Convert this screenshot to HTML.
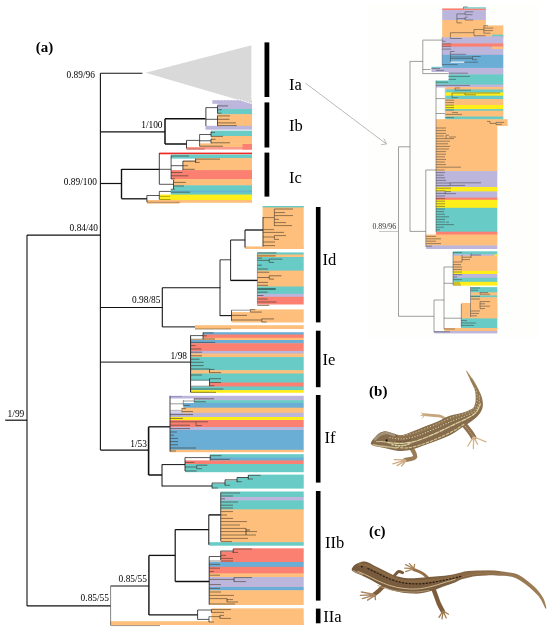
<!DOCTYPE html>
<html lang="en">
<head>
<meta charset="utf-8">
<title>Phylogenetic tree figure</title>
<style>
html,body{margin:0;padding:0;background:#fff;}
body{width:550px;height:632px;overflow:hidden;}
svg{display:block;font-family:"Liberation Serif",serif;}
</style>
</head>
<body>
<svg width="550" height="632" viewBox="0 0 550 632">
<rect x="0" y="0" width="550" height="632" fill="#ffffff"/>
<rect x="368" y="3" width="170" height="334.5" fill="#fefefc"/>
<g id="main-tree" shape-rendering="auto">
<rect x="212.3" y="100.0" width="39.7" height="3.8" fill="#bdb6dc"/>
<rect x="217.5" y="103.3" width="34.5" height="6.2" fill="#bdb6dc"/>
<rect x="217.5" y="109.0" width="34.5" height="5.7" fill="#68cbc6"/>
<rect x="217.5" y="114.2" width="34.5" height="12.1" fill="#fdbf7b"/>
<rect x="205.5" y="125.8" width="46.5" height="3.9" fill="#bdb6dc"/>
<rect x="211.0" y="130.6" width="41.0" height="5.9" fill="#68cbc6"/>
<rect x="211.0" y="136.0" width="41.0" height="7.8" fill="#fdbf7b"/>
<rect x="199.6" y="143.3" width="52.4" height="4.2" fill="#fdbf7b"/>
<rect x="186.5" y="147.0" width="65.5" height="2.6" fill="#fc9a8d"/>
<rect x="242.5" y="144.0" width="9.5" height="5.6" fill="#fb8072"/>
<polygon points="145.6,72.8 251.5,45.3 251.5,103.8" fill="#d9d9d9"/>
<path d="M212.4 99.9L240 99.9L251.5 103.6" stroke="#fff" stroke-width="0.9" stroke-dasharray="2 1.2" fill="none"/>
<path d="M251.6 45.3L251.6 103.8" stroke="#fff" stroke-width="0.6" stroke-dasharray="1.5 1.5" fill="none"/>
<rect x="159.3" y="152.6" width="92.7" height="1.7" fill="#ee2a24"/>
<rect x="171.1" y="154.5" width="80.9" height="4.1" fill="#68cbc6"/>
<rect x="195.6" y="158.1" width="56.4" height="3.2" fill="#fdbf7b"/>
<rect x="182.9" y="160.8" width="69.1" height="9.8" fill="#fdbf7b"/>
<rect x="171.1" y="170.1" width="80.9" height="9.5" fill="#fb8072"/>
<rect x="173.5" y="179.1" width="78.5" height="6.7" fill="#fdbf7b"/>
<rect x="173.5" y="185.3" width="78.5" height="4.2" fill="#68cbc6"/>
<rect x="170.8" y="189.0" width="81.2" height="6.1" fill="#68cbc6"/>
<rect x="170.8" y="190.6" width="81.2" height="1.8" fill="#62b4cf"/>
<rect x="159.3" y="194.6" width="92.7" height="5.9" fill="#ffee1a"/>
<rect x="146.9" y="200.0" width="105.1" height="2.8" fill="#fdbf7b"/>
<rect x="146.9" y="203.3" width="32.1" height="0.7" fill="#fdbf7b"/>
<rect x="262.6" y="206.0" width="41.1" height="43.0" fill="#fdbf7b"/>
<rect x="262.6" y="206.0" width="41.1" height="1.4" fill="#68cbc6"/>
<rect x="245.0" y="246.4" width="58.7" height="2.6" fill="#fdbf7b"/>
<rect x="257.4" y="252.4" width="46.3" height="2.6" fill="#68cbc6"/>
<rect x="257.4" y="254.5" width="46.3" height="3.0" fill="#fdbf7b"/>
<rect x="257.4" y="255.2" width="18.3" height="1.3" fill="#b5763a"/>
<rect x="257.4" y="257.0" width="46.3" height="14.1" fill="#68cbc6"/>
<rect x="257.4" y="270.6" width="46.3" height="16.4" fill="#fdbf7b"/>
<rect x="257.4" y="286.5" width="46.3" height="7.8" fill="#68cbc6"/>
<rect x="257.4" y="293.8" width="46.3" height="3.5" fill="#bdb6dc"/>
<rect x="257.4" y="296.8" width="46.3" height="7.7" fill="#fb8072"/>
<rect x="257.4" y="304.8" width="11.8" height="1.1" fill="#fdd3a3"/>
<rect x="250.4" y="309.4" width="53.3" height="3.2" fill="#fdbf7b"/>
<rect x="231.5" y="312.1" width="72.2" height="10.4" fill="#fdbf7b"/>
<rect x="195.0" y="325.2" width="108.7" height="3.8" fill="#fdbf7b"/>
<rect x="203.0" y="332.2" width="100.7" height="2.8" fill="#6aaed6"/>
<rect x="203.0" y="334.5" width="100.7" height="3.8" fill="#fb8072"/>
<rect x="203.0" y="337.8" width="100.7" height="2.7" fill="#fdbf7b"/>
<rect x="190.6" y="339.0" width="12.4" height="1.5" fill="#fdbf7b"/>
<rect x="190.6" y="340.0" width="113.1" height="3.7" fill="#6aaed6"/>
<rect x="190.6" y="343.2" width="113.1" height="8.2" fill="#fb8072"/>
<rect x="190.6" y="350.9" width="113.1" height="3.1" fill="#bdb6dc"/>
<rect x="190.6" y="353.5" width="113.1" height="4.1" fill="#fdbf7b"/>
<rect x="190.6" y="357.1" width="113.1" height="13.6" fill="#68cbc6"/>
<rect x="190.6" y="370.2" width="113.1" height="3.8" fill="#fdbf7b"/>
<rect x="190.6" y="373.5" width="113.1" height="7.0" fill="#68cbc6"/>
<rect x="209.5" y="380.0" width="94.2" height="3.0" fill="#68cbc6"/>
<rect x="209.5" y="382.5" width="94.2" height="4.5" fill="#fb8072"/>
<rect x="190.6" y="386.5" width="113.1" height="4.1" fill="#68cbc6"/>
<rect x="190.6" y="390.1" width="113.1" height="2.7" fill="#ffee1a"/>
<rect x="170.0" y="395.8" width="133.7" height="2.7" fill="#bdb6dc"/>
<rect x="194.2" y="398.0" width="109.5" height="2.7" fill="#bdb6dc"/>
<rect x="194.2" y="400.2" width="109.5" height="3.3" fill="#68cbc6"/>
<rect x="183.3" y="403.0" width="120.4" height="5.2" fill="#6aaed6"/>
<rect x="181.8" y="407.7" width="121.9" height="5.6" fill="#fdbf7b"/>
<rect x="170.0" y="411.0" width="11.8" height="2.3" fill="#d9d4ea"/>
<rect x="170.0" y="412.8" width="133.7" height="4.7" fill="#bdb6dc"/>
<rect x="170.0" y="417.0" width="133.7" height="3.5" fill="#ffee1a"/>
<rect x="170.0" y="420.0" width="133.7" height="7.5" fill="#fb8072"/>
<rect x="170.0" y="427.0" width="133.7" height="3.5" fill="#bdb6dc"/>
<rect x="170.0" y="430.0" width="133.7" height="20.3" fill="#6aaed6"/>
<rect x="170.0" y="449.8" width="133.7" height="2.4" fill="#fdbf7b"/>
<rect x="210.2" y="454.2" width="93.5" height="3.7" fill="#68cbc6"/>
<rect x="210.2" y="457.4" width="93.5" height="3.5" fill="#6aaed6"/>
<rect x="185.0" y="460.4" width="118.7" height="4.1" fill="#fb8072"/>
<rect x="185.0" y="464.0" width="118.7" height="8.2" fill="#68cbc6"/>
<rect x="248.3" y="474.6" width="55.4" height="3.4" fill="#68cbc6"/>
<rect x="237.0" y="477.5" width="66.7" height="3.5" fill="#68cbc6"/>
<rect x="225.0" y="480.5" width="78.7" height="3.6" fill="#68cbc6"/>
<rect x="212.0" y="483.6" width="91.7" height="5.0" fill="#68cbc6"/>
<rect x="220.7" y="491.5" width="83.0" height="6.0" fill="#68cbc6"/>
<rect x="220.7" y="497.0" width="83.0" height="3.8" fill="#bdb6dc"/>
<rect x="220.7" y="500.3" width="83.0" height="9.6" fill="#68cbc6"/>
<rect x="220.7" y="509.4" width="83.0" height="33.3" fill="#fdbf7b"/>
<rect x="209.2" y="542.2" width="94.5" height="3.5" fill="#68cbc6"/>
<rect x="233.2" y="548.3" width="70.5" height="3.7" fill="#fb8072"/>
<rect x="220.7" y="551.5" width="83.0" height="11.0" fill="#fb8072"/>
<rect x="209.2" y="562.0" width="94.5" height="5.3" fill="#6aaed6"/>
<rect x="209.2" y="566.8" width="94.5" height="7.1" fill="#fb8072"/>
<rect x="209.2" y="573.4" width="94.5" height="4.1" fill="#fdbf7b"/>
<rect x="209.2" y="577.0" width="94.5" height="10.5" fill="#bdb6dc"/>
<rect x="209.2" y="587.0" width="94.5" height="3.7" fill="#6aaed6"/>
<rect x="209.2" y="590.2" width="94.5" height="14.8" fill="#fdbf7b"/>
<rect x="211.4" y="608.3" width="92.3" height="16.7" fill="#fdbf7b"/>
<rect x="110.5" y="621.2" width="193.2" height="3.8" fill="#fdbf7b"/>
<rect x="264.5" y="42.4" width="4.8" height="54.6" fill="#000"/>
<rect x="264.5" y="102.4" width="4.8" height="45.1" fill="#000"/>
<rect x="264.5" y="152.6" width="4.8" height="44.0" fill="#000"/>
<rect x="315.9" y="207.0" width="4.6" height="115.4" fill="#000"/>
<rect x="315.9" y="330.7" width="4.6" height="56.5" fill="#000"/>
<rect x="315.9" y="395.0" width="4.6" height="87.6" fill="#000"/>
<rect x="315.9" y="491.0" width="4.6" height="109.6" fill="#000"/>
<rect x="315.9" y="608.6" width="4.6" height="14.7" fill="#000"/>
<path d="M27.0 235.1L27.0 606.0" stroke="#111" stroke-width="1.1" fill="none"/>
<path d="M5.2 420.2L27.0 420.2" stroke="#111" stroke-width="1.2" fill="none"/>
<path d="M27.0 235.1L100.4 235.1" stroke="#111" stroke-width="1.1" fill="none"/>
<path d="M100.4 73.3L100.4 450.1" stroke="#111" stroke-width="1.1" fill="none"/>
<path d="M100.4 73.3L142.4 73.3" stroke="#111" stroke-width="1.1" fill="none"/>
<path d="M100.4 131.9L165.0 131.9" stroke="#111" stroke-width="1.1" fill="none"/>
<path d="M100.4 183.5L121.5 183.5" stroke="#111" stroke-width="1.2" fill="none"/>
<path d="M100.4 307.5L162.3 307.5" stroke="#111" stroke-width="1.1" fill="none"/>
<path d="M100.4 362.1L190.6 362.1" stroke="#111" stroke-width="1.0" fill="none"/>
<path d="M100.4 450.1L148.6 450.1" stroke="#111" stroke-width="1.1" fill="none"/>
<path d="M27.0 605.9L110.6 605.9" stroke="#111" stroke-width="1.2" fill="none"/>
<path d="M110.6 586.0L110.6 625.4" stroke="#333" stroke-width="0.6" fill="none"/>
<path d="M110.6 586.0L148.9 586.0" stroke="#111" stroke-width="1.2" fill="none"/>
<path d="M165.0 118.8L165.0 144.0" stroke="#111" stroke-width="1.5" fill="none"/>
<path d="M165.0 118.8L205.5 118.8" stroke="#111" stroke-width="1.4" fill="none"/>
<path d="M165.0 144.0L186.5 144.0" stroke="#111" stroke-width="1.5" fill="none"/>
<path d="M205.9 107.6L205.9 126.0" stroke="#111" stroke-width="0.8" fill="none"/>
<path d="M205.9 107.6L217.5 107.6" stroke="#111" stroke-width="0.7" fill="none"/>
<path d="M217.5 105.5L217.5 113.5" stroke="#111" stroke-width="0.7" fill="none"/>
<path d="M205.9 119.3L217.5 119.3" stroke="#111" stroke-width="0.7" fill="none"/>
<path d="M217.5 115.6L217.5 125.8" stroke="#111" stroke-width="0.7" fill="none"/>
<path d="M217.5 105.9L228.0 105.9" stroke="#3a3228" stroke-width="0.6" fill="none"/>
<path d="M217.5 109.8L222.0 109.8" stroke="#3a3228" stroke-width="0.6" fill="none"/>
<path d="M217.5 113.2L221.5 113.2" stroke="#3a3228" stroke-width="0.6" fill="none"/>
<path d="M217.5 115.9L230.0 115.9" stroke="#3a3228" stroke-width="0.6" fill="none"/>
<path d="M217.5 119.3L229.5 119.3" stroke="#3a3228" stroke-width="0.6" fill="none"/>
<path d="M217.5 122.9L236.0 122.9" stroke="#3a3228" stroke-width="0.6" fill="none"/>
<path d="M217.5 125.6L236.8 125.6" stroke="#3a3228" stroke-width="0.6" fill="none"/>
<path d="M186.5 140.4L186.5 148.4" stroke="#111" stroke-width="0.8" fill="none"/>
<path d="M186.5 140.4L199.6 140.4" stroke="#111" stroke-width="0.7" fill="none"/>
<path d="M199.6 134.5L199.6 146.2" stroke="#111" stroke-width="0.7" fill="none"/>
<path d="M199.6 134.5L211.0 134.5" stroke="#111" stroke-width="0.7" fill="none"/>
<path d="M211.0 131.6L211.0 136.7" stroke="#111" stroke-width="0.7" fill="none"/>
<path d="M199.6 140.8L211.0 140.8" stroke="#111" stroke-width="0.7" fill="none"/>
<path d="M211.0 138.9L211.0 143.3" stroke="#111" stroke-width="0.7" fill="none"/>
<path d="M211.0 132.4L215.0 132.4" stroke="#3a3228" stroke-width="0.6" fill="none"/>
<path d="M211.0 136.4L223.0 136.4" stroke="#3a3228" stroke-width="0.6" fill="none"/>
<path d="M211.0 139.3L215.6 139.3" stroke="#3a3228" stroke-width="0.6" fill="none"/>
<path d="M211.0 142.8L230.0 142.8" stroke="#3a3228" stroke-width="0.6" fill="none"/>
<path d="M199.6 146.2L223.0 146.2" stroke="#3a3228" stroke-width="0.6" fill="none"/>
<path d="M186.5 149.0L204.7 149.0" stroke="#b0483c" stroke-width="0.7" fill="none"/>
<path d="M121.5 169.0L121.5 198.6" stroke="#111" stroke-width="1.4" fill="none"/>
<path d="M121.5 169.3L159.3 169.3" stroke="#111" stroke-width="1.3" fill="none"/>
<path d="M121.5 198.8L146.9 198.8" stroke="#111" stroke-width="1.3" fill="none"/>
<path d="M159.3 153.2L159.3 184.3" stroke="#111" stroke-width="0.8" fill="none"/>
<path d="M159.3 169.3L171.1 169.3" stroke="#111" stroke-width="0.7" fill="none"/>
<path d="M171.1 155.4L171.1 179.1" stroke="#111" stroke-width="0.7" fill="none"/>
<path d="M159.3 184.3L173.5 184.3" stroke="#111" stroke-width="0.7" fill="none"/>
<path d="M173.5 180.0L173.5 189.0" stroke="#111" stroke-width="0.7" fill="none"/>
<path d="M171.1 165.7L182.9 165.7" stroke="#111" stroke-width="0.7" fill="none"/>
<path d="M182.9 161.1L182.9 170.1" stroke="#111" stroke-width="0.7" fill="none"/>
<path d="M182.9 161.1L195.6 161.1" stroke="#111" stroke-width="0.7" fill="none"/>
<path d="M195.6 158.6L195.6 162.7" stroke="#111" stroke-width="0.7" fill="none"/>
<path d="M171.1 156.0L189.0 156.0" stroke="#3a3228" stroke-width="0.6" fill="none"/>
<path d="M195.6 159.1L220.0 159.1" stroke="#3a3228" stroke-width="0.6" fill="none"/>
<path d="M195.6 162.4L199.7 162.4" stroke="#3a3228" stroke-width="0.6" fill="none"/>
<path d="M182.9 165.7L188.0 165.7" stroke="#3a3228" stroke-width="0.6" fill="none"/>
<path d="M182.9 169.3L194.8 169.3" stroke="#3a3228" stroke-width="0.6" fill="none"/>
<path d="M171.1 172.5L182.5 172.5" stroke="#3a3228" stroke-width="0.6" fill="none"/>
<path d="M171.1 175.8L188.3 175.8" stroke="#3a3228" stroke-width="0.6" fill="none"/>
<path d="M171.1 178.8L175.0 178.8" stroke="#3a3228" stroke-width="0.6" fill="none"/>
<path d="M173.5 182.4L185.8 182.4" stroke="#3a3228" stroke-width="0.6" fill="none"/>
<path d="M173.5 186.0L184.0 186.0" stroke="#3a3228" stroke-width="0.6" fill="none"/>
<path d="M170.8 189.2L175.0 189.2" stroke="#3a3228" stroke-width="0.6" fill="none"/>
<path d="M170.8 192.2L190.0 192.2" stroke="#3a3228" stroke-width="0.6" fill="none"/>
<path d="M146.9 195.5L146.9 202.0" stroke="#111" stroke-width="0.8" fill="none"/>
<path d="M146.9 195.5L159.3 195.5" stroke="#111" stroke-width="0.7" fill="none"/>
<path d="M159.3 191.4L159.3 199.5" stroke="#111" stroke-width="0.7" fill="none"/>
<path d="M159.3 191.4L170.8 191.4" stroke="#111" stroke-width="0.7" fill="none"/>
<path d="M159.3 199.5L170.5 199.5" stroke="#8a8000" stroke-width="0.7" fill="none"/>
<path d="M159.3 196.4L170.0 196.4" stroke="#8a8000" stroke-width="0.6" fill="none"/>
<path d="M146.9 202.3L180.0 202.3" stroke="#7a5a3a" stroke-width="0.6" fill="none"/>
<path d="M162.3 287.8L162.3 327.0" stroke="#111" stroke-width="1.1" fill="none"/>
<path d="M162.3 287.8L220.4 287.8" stroke="#111" stroke-width="1.1" fill="none"/>
<path d="M162.3 326.9L195.0 326.9" stroke="#111" stroke-width="1.0" fill="none"/>
<path d="M220.0 259.8L220.0 316.0" stroke="#111" stroke-width="0.9" fill="none"/>
<path d="M220.0 259.8L230.6 259.8" stroke="#111" stroke-width="0.8" fill="none"/>
<path d="M230.6 240.0L230.6 280.6" stroke="#111" stroke-width="0.9" fill="none"/>
<path d="M230.6 240.0L245.0 240.0" stroke="#111" stroke-width="1.0" fill="none"/>
<path d="M245.0 230.0L245.0 247.5" stroke="#111" stroke-width="1.0" fill="none"/>
<path d="M245.0 230.0L263.0 230.0" stroke="#111" stroke-width="1.3" fill="none"/>
<path d="M230.6 280.4L257.4 280.4" stroke="#111" stroke-width="1.4" fill="none"/>
<path d="M220.0 315.6L231.5 315.6" stroke="#111" stroke-width="1.1" fill="none"/>
<path d="M231.5 310.2L231.5 320.8" stroke="#111" stroke-width="0.7" fill="none"/>
<path d="M263.0 217.0L263.0 246.5" stroke="#111" stroke-width="0.7" fill="none"/>
<path d="M257.4 253.0L257.4 304.5" stroke="#555" stroke-width="0.5" fill="none"/>
<path d="M274.4 209.0L274.4 226.0" stroke="#4a3a2a" stroke-width="0.6" fill="none"/>
<path d="M274.4 209.0L293.0 209.0" stroke="#4a3a2a" stroke-width="0.6" fill="none"/>
<path d="M274.4 212.6L285.0 212.6" stroke="#4a3a2a" stroke-width="0.6" fill="none"/>
<path d="M274.4 215.6L293.0 215.6" stroke="#4a3a2a" stroke-width="0.6" fill="none"/>
<path d="M274.4 219.4L279.0 219.4" stroke="#4a3a2a" stroke-width="0.6" fill="none"/>
<path d="M274.4 222.6L286.0 222.6" stroke="#4a3a2a" stroke-width="0.6" fill="none"/>
<path d="M274.4 225.6L292.0 225.6" stroke="#4a3a2a" stroke-width="0.6" fill="none"/>
<path d="M263.0 217.6L274.4 217.6" stroke="#4a3a2a" stroke-width="0.6" fill="none"/>
<path d="M263.0 229.6L274.0 229.6" stroke="#4a3a2a" stroke-width="0.6" fill="none"/>
<path d="M263.0 232.4L284.0 232.4" stroke="#4a3a2a" stroke-width="0.6" fill="none"/>
<path d="M263.0 237.0L274.4 237.0" stroke="#4a3a2a" stroke-width="0.6" fill="none"/>
<path d="M274.4 235.6L286.0 235.6" stroke="#4a3a2a" stroke-width="0.6" fill="none"/>
<path d="M274.4 239.4L279.0 239.4" stroke="#4a3a2a" stroke-width="0.6" fill="none"/>
<path d="M263.0 242.0L275.0 242.0" stroke="#4a3a2a" stroke-width="0.6" fill="none"/>
<path d="M263.0 245.6L275.0 245.6" stroke="#4a3a2a" stroke-width="0.6" fill="none"/>
<path d="M274.4 235.6L274.4 239.4" stroke="#4a3a2a" stroke-width="0.6" fill="none"/>
<path d="M257.4 252.9L276.5 252.9" stroke="#3a3228" stroke-width="0.6" fill="none"/>
<path d="M257.4 258.1L262.0 258.1" stroke="#3a3228" stroke-width="0.6" fill="none"/>
<path d="M257.4 260.3L269.2 260.3" stroke="#3a3228" stroke-width="0.6" fill="none"/>
<path d="M269.2 259.1L282.3 259.1" stroke="#3a3228" stroke-width="0.6" fill="none"/>
<path d="M269.2 262.4L274.0 262.4" stroke="#3a3228" stroke-width="0.6" fill="none"/>
<path d="M257.4 265.2L261.8 265.2" stroke="#3a3228" stroke-width="0.6" fill="none"/>
<path d="M257.4 269.0L267.9 269.0" stroke="#3a3228" stroke-width="0.6" fill="none"/>
<path d="M257.4 272.2L269.2 272.2" stroke="#3a3228" stroke-width="0.6" fill="none"/>
<path d="M257.4 277.5L269.2 277.5" stroke="#3a3228" stroke-width="0.6" fill="none"/>
<path d="M269.2 275.8L281.5 275.8" stroke="#3a3228" stroke-width="0.6" fill="none"/>
<path d="M269.2 279.1L274.0 279.1" stroke="#3a3228" stroke-width="0.6" fill="none"/>
<path d="M257.4 282.4L268.0 282.4" stroke="#3a3228" stroke-width="0.6" fill="none"/>
<path d="M257.4 285.3L268.0 285.3" stroke="#3a3228" stroke-width="0.6" fill="none"/>
<path d="M257.4 289.0L275.7 289.0" stroke="#3a3228" stroke-width="0.6" fill="none"/>
<path d="M257.4 292.2L267.5 292.2" stroke="#3a3228" stroke-width="0.6" fill="none"/>
<path d="M257.4 295.5L263.5 295.5" stroke="#3a3228" stroke-width="0.6" fill="none"/>
<path d="M257.4 299.0L267.5 299.0" stroke="#3a3228" stroke-width="0.6" fill="none"/>
<path d="M257.4 302.0L276.5 302.0" stroke="#3a3228" stroke-width="0.6" fill="none"/>
<path d="M257.4 305.3L269.2 305.3" stroke="#3a3228" stroke-width="0.6" fill="none"/>
<path d="M269.2 259.1L269.2 262.4" stroke="#3a3228" stroke-width="0.6" fill="none"/>
<path d="M269.2 275.8L269.2 279.1" stroke="#3a3228" stroke-width="0.6" fill="none"/>
<path d="M257.4 289.0L275.7 289.0" stroke="#1f4a48" stroke-width="0.9" fill="none"/>
<path d="M231.5 310.2L250.4 310.2" stroke="#555" stroke-width="0.6" fill="none"/>
<path d="M250.4 309.6L255.3 309.6" stroke="#3a3228" stroke-width="0.6" fill="none"/>
<path d="M250.4 312.1L261.8 312.1" stroke="#3a3228" stroke-width="0.6" fill="none"/>
<path d="M231.5 315.4L247.0 315.4" stroke="#3a3228" stroke-width="0.6" fill="none"/>
<path d="M231.5 320.0L261.8 320.0" stroke="#3a3228" stroke-width="0.6" fill="none"/>
<path d="M261.8 318.9L274.0 318.9" stroke="#3a3228" stroke-width="0.6" fill="none"/>
<path d="M261.8 322.0L266.7 322.0" stroke="#3a3228" stroke-width="0.6" fill="none"/>
<path d="M250.4 309.4L250.4 312.1" stroke="#3a3228" stroke-width="0.6" fill="none"/>
<path d="M261.8 318.7L261.8 322.0" stroke="#3a3228" stroke-width="0.6" fill="none"/>
<path d="M195.0 329.0L231.0 329.0" stroke="#6a4a2a" stroke-width="0.6" fill="none"/>
<path d="M190.6 335.5L190.6 392.3" stroke="#111" stroke-width="0.9" fill="none"/>
<path d="M190.6 335.6L203.0 335.6" stroke="#111" stroke-width="0.7" fill="none"/>
<path d="M203.0 332.5L203.0 339.4" stroke="#111" stroke-width="0.7" fill="none"/>
<path d="M190.6 339.2L203.0 339.2" stroke="#666" stroke-width="0.6" fill="none"/>
<path d="M190.6 380.2L209.5 380.2" stroke="#555" stroke-width="0.6" fill="none"/>
<path d="M190.6 386.2L209.5 386.2" stroke="#555" stroke-width="0.6" fill="none"/>
<path d="M209.5 378.7L209.5 386.2" stroke="#111" stroke-width="0.7" fill="none"/>
<path d="M209.5 369.0L209.5 372.6" stroke="#111" stroke-width="0.6" fill="none"/>
<path d="M203.0 332.9L213.5 332.9" stroke="#3a3228" stroke-width="0.6" fill="none"/>
<path d="M203.0 335.8L207.0 335.8" stroke="#3a3228" stroke-width="0.6" fill="none"/>
<path d="M203.0 339.0L215.0 339.0" stroke="#3a3228" stroke-width="0.6" fill="none"/>
<path d="M190.6 342.4L215.2 342.4" stroke="#3a3228" stroke-width="0.6" fill="none"/>
<path d="M190.6 345.6L195.5 345.6" stroke="#3a3228" stroke-width="0.6" fill="none"/>
<path d="M190.6 349.0L201.3 349.0" stroke="#3a3228" stroke-width="0.6" fill="none"/>
<path d="M190.6 352.2L202.0 352.2" stroke="#3a3228" stroke-width="0.6" fill="none"/>
<path d="M190.6 355.8L202.0 355.8" stroke="#3a3228" stroke-width="0.6" fill="none"/>
<path d="M190.6 359.2L199.6 359.2" stroke="#3a3228" stroke-width="0.6" fill="none"/>
<path d="M190.6 362.3L203.7 362.3" stroke="#3a3228" stroke-width="0.6" fill="none"/>
<path d="M190.6 365.6L203.7 365.6" stroke="#3a3228" stroke-width="0.6" fill="none"/>
<path d="M190.6 369.0L209.5 369.0" stroke="#3a3228" stroke-width="0.6" fill="none"/>
<path d="M209.5 369.4L214.4 369.4" stroke="#3a3228" stroke-width="0.6" fill="none"/>
<path d="M209.5 372.6L221.0 372.6" stroke="#3a3228" stroke-width="0.6" fill="none"/>
<path d="M190.6 375.0L202.0 375.0" stroke="#3a3228" stroke-width="0.6" fill="none"/>
<path d="M209.5 378.7L221.0 378.7" stroke="#3a3228" stroke-width="0.6" fill="none"/>
<path d="M209.5 382.5L221.0 382.5" stroke="#3a3228" stroke-width="0.6" fill="none"/>
<path d="M209.5 385.7L214.4 385.7" stroke="#3a3228" stroke-width="0.6" fill="none"/>
<path d="M190.6 389.0L223.4 389.0" stroke="#3a3228" stroke-width="0.6" fill="none"/>
<path d="M190.6 392.3L216.0 392.3" stroke="#3a3228" stroke-width="0.6" fill="none"/>
<path d="M148.6 426.8L148.6 475.0" stroke="#111" stroke-width="1.6" fill="none"/>
<path d="M148.6 426.8L170.0 426.8" stroke="#111" stroke-width="1.3" fill="none"/>
<path d="M170.0 395.8L170.0 451.6" stroke="#111" stroke-width="0.8" fill="none"/>
<path d="M148.6 475.0L162.0 475.0" stroke="#111" stroke-width="1.5" fill="none"/>
<path d="M162.0 464.4L162.0 486.4" stroke="#111" stroke-width="1.0" fill="none"/>
<path d="M162.0 464.6L185.0 464.6" stroke="#111" stroke-width="1.0" fill="none"/>
<path d="M185.0 457.6L185.0 471.0" stroke="#111" stroke-width="0.8" fill="none"/>
<path d="M185.0 457.6L210.2 457.6" stroke="#111" stroke-width="0.7" fill="none"/>
<path d="M210.2 455.3L210.2 460.5" stroke="#111" stroke-width="0.7" fill="none"/>
<path d="M162.0 486.0L212.0 486.0" stroke="#111" stroke-width="1.0" fill="none"/>
<path d="M212.0 483.0L212.0 488.4" stroke="#111" stroke-width="0.7" fill="none"/>
<path d="M212.0 483.0L225.0 483.0" stroke="#111" stroke-width="0.7" fill="none"/>
<path d="M225.0 479.8L225.0 485.3" stroke="#111" stroke-width="0.7" fill="none"/>
<path d="M225.0 479.8L237.0 479.8" stroke="#111" stroke-width="0.7" fill="none"/>
<path d="M237.0 477.5L237.0 482.2" stroke="#111" stroke-width="0.7" fill="none"/>
<path d="M237.0 477.5L248.3 477.5" stroke="#111" stroke-width="0.7" fill="none"/>
<path d="M248.3 475.0L248.3 479.4" stroke="#111" stroke-width="0.7" fill="none"/>
<path d="M248.3 475.4L260.6 475.4" stroke="#3a3228" stroke-width="0.6" fill="none"/>
<path d="M248.3 479.0L253.0 479.0" stroke="#3a3228" stroke-width="0.6" fill="none"/>
<path d="M237.0 481.7L241.7 481.7" stroke="#3a3228" stroke-width="0.6" fill="none"/>
<path d="M225.0 485.3L230.0 485.3" stroke="#3a3228" stroke-width="0.6" fill="none"/>
<path d="M212.0 488.0L218.0 488.0" stroke="#3a3228" stroke-width="0.6" fill="none"/>
<path d="M170.0 396.6L182.0 396.6" stroke="#8a80b8" stroke-width="0.7" fill="none"/>
<path d="M170.0 403.8L183.3 403.8" stroke="#555" stroke-width="0.6" fill="none"/>
<path d="M183.3 400.0L183.3 405.3" stroke="#555" stroke-width="0.6" fill="none"/>
<path d="M183.3 401.0L194.2 401.0" stroke="#555" stroke-width="0.6" fill="none"/>
<path d="M194.2 398.4L194.2 402.4" stroke="#555" stroke-width="0.6" fill="none"/>
<path d="M170.0 410.4L181.8 410.4" stroke="#777" stroke-width="0.6" fill="none"/>
<path d="M181.8 408.2L181.8 412.6" stroke="#777" stroke-width="0.6" fill="none"/>
<path d="M194.2 398.8L214.0 398.8" stroke="#3a3228" stroke-width="0.6" fill="none"/>
<path d="M194.2 401.8L206.0 401.8" stroke="#3a3228" stroke-width="0.6" fill="none"/>
<path d="M183.3 405.4L190.0 405.4" stroke="#3a3228" stroke-width="0.6" fill="none"/>
<path d="M181.8 408.6L186.0 408.6" stroke="#3a3228" stroke-width="0.6" fill="none"/>
<path d="M181.8 411.6L193.0 411.6" stroke="#3a3228" stroke-width="0.6" fill="none"/>
<path d="M170.0 414.6L193.0 414.6" stroke="#3a3228" stroke-width="0.6" fill="none"/>
<path d="M170.0 418.4L183.0 418.4" stroke="#3a3228" stroke-width="0.6" fill="none"/>
<path d="M170.0 421.8L196.0 421.8" stroke="#3a3228" stroke-width="0.6" fill="none"/>
<path d="M170.0 425.2L190.0 425.2" stroke="#3a3228" stroke-width="0.6" fill="none"/>
<path d="M170.0 428.6L190.0 428.6" stroke="#3a3228" stroke-width="0.6" fill="none"/>
<path d="M170.0 432.0L177.0 432.0" stroke="#3a3228" stroke-width="0.6" fill="none"/>
<path d="M170.0 435.2L174.0 435.2" stroke="#3a3228" stroke-width="0.6" fill="none"/>
<path d="M170.0 438.4L178.0 438.4" stroke="#3a3228" stroke-width="0.6" fill="none"/>
<path d="M170.0 441.6L178.0 441.6" stroke="#3a3228" stroke-width="0.6" fill="none"/>
<path d="M170.0 444.8L178.0 444.8" stroke="#3a3228" stroke-width="0.6" fill="none"/>
<path d="M170.0 448.0L196.0 448.0" stroke="#3a3228" stroke-width="0.6" fill="none"/>
<path d="M170.0 451.0L176.0 451.0" stroke="#3a3228" stroke-width="0.6" fill="none"/>
<path d="M196.0 421.8L196.0 425.6" stroke="#3a3228" stroke-width="0.6" fill="none"/>
<path d="M196.0 421.8L208.0 421.8" stroke="#3a3228" stroke-width="0.6" fill="none"/>
<path d="M196.0 425.6L202.0 425.6" stroke="#3a3228" stroke-width="0.6" fill="none"/>
<path d="M210.2 455.7L221.5 455.7" stroke="#3a3228" stroke-width="0.6" fill="none"/>
<path d="M210.2 459.3L229.8 459.3" stroke="#3a3228" stroke-width="0.6" fill="none"/>
<path d="M185.0 462.4L194.4 462.4" stroke="#3a3228" stroke-width="0.6" fill="none"/>
<path d="M185.0 467.0L196.7 467.0" stroke="#3a3228" stroke-width="0.6" fill="none"/>
<path d="M196.7 465.2L207.4 465.2" stroke="#3a3228" stroke-width="0.6" fill="none"/>
<path d="M196.7 468.7L202.0 468.7" stroke="#3a3228" stroke-width="0.6" fill="none"/>
<path d="M185.0 471.0L196.7 471.0" stroke="#3a3228" stroke-width="0.6" fill="none"/>
<path d="M196.7 465.2L196.7 468.7" stroke="#3a3228" stroke-width="0.6" fill="none"/>
<path d="M148.9 555.4L148.9 614.9" stroke="#111" stroke-width="1.4" fill="none"/>
<path d="M148.9 555.4L175.2 555.4" stroke="#111" stroke-width="1.3" fill="none"/>
<path d="M175.2 529.6L175.2 581.6" stroke="#111" stroke-width="1.2" fill="none"/>
<path d="M175.2 529.6L208.8 529.6" stroke="#111" stroke-width="1.2" fill="none"/>
<path d="M208.8 514.8L208.8 544.8" stroke="#111" stroke-width="1.0" fill="none"/>
<path d="M208.8 514.9L220.7 514.9" stroke="#111" stroke-width="1.4" fill="none"/>
<path d="M220.7 492.5L220.7 541.0" stroke="#111" stroke-width="0.7" fill="none"/>
<path d="M175.2 581.5L209.2 581.5" stroke="#111" stroke-width="1.4" fill="none"/>
<path d="M209.2 556.5L209.2 604.5" stroke="#111" stroke-width="0.8" fill="none"/>
<path d="M209.2 556.5L220.7 556.5" stroke="#111" stroke-width="0.7" fill="none"/>
<path d="M220.7 551.0L220.7 560.0" stroke="#111" stroke-width="0.7" fill="none"/>
<path d="M220.7 551.0L233.2 551.0" stroke="#111" stroke-width="0.7" fill="none"/>
<path d="M233.2 549.0L233.2 553.0" stroke="#111" stroke-width="0.7" fill="none"/>
<path d="M148.9 614.8L197.6 614.8" stroke="#111" stroke-width="1.2" fill="none"/>
<path d="M197.6 610.0L197.6 619.4" stroke="#111" stroke-width="0.8" fill="none"/>
<path d="M197.6 610.0L211.4 610.0" stroke="#111" stroke-width="0.7" fill="none"/>
<path d="M197.6 619.4L208.8 619.4" stroke="#111" stroke-width="0.7" fill="none"/>
<path d="M211.4 609.5L211.4 612.5" stroke="#111" stroke-width="0.7" fill="none"/>
<path d="M209.0 616.5L209.0 622.0" stroke="#111" stroke-width="0.7" fill="none"/>
<path d="M220.7 493.0L240.0 493.0" stroke="#4a3a2a" stroke-width="0.6" fill="none"/>
<path d="M220.7 496.0L233.0 496.0" stroke="#4a3a2a" stroke-width="0.6" fill="none"/>
<path d="M220.7 498.8L225.0 498.8" stroke="#4a3a2a" stroke-width="0.6" fill="none"/>
<path d="M220.7 502.0L238.0 502.0" stroke="#4a3a2a" stroke-width="0.6" fill="none"/>
<path d="M220.7 505.2L233.0 505.2" stroke="#4a3a2a" stroke-width="0.6" fill="none"/>
<path d="M220.7 508.0L233.0 508.0" stroke="#4a3a2a" stroke-width="0.6" fill="none"/>
<path d="M220.7 511.6L233.0 511.6" stroke="#4a3a2a" stroke-width="0.6" fill="none"/>
<path d="M220.7 515.0L227.0 515.0" stroke="#4a3a2a" stroke-width="0.6" fill="none"/>
<path d="M220.7 518.4L233.0 518.4" stroke="#4a3a2a" stroke-width="0.6" fill="none"/>
<path d="M220.7 521.6L247.0 521.6" stroke="#4a3a2a" stroke-width="0.6" fill="none"/>
<path d="M220.7 525.0L240.0 525.0" stroke="#4a3a2a" stroke-width="0.6" fill="none"/>
<path d="M220.7 528.4L246.0 528.4" stroke="#4a3a2a" stroke-width="0.6" fill="none"/>
<path d="M220.7 531.6L257.0 531.6" stroke="#4a3a2a" stroke-width="0.6" fill="none"/>
<path d="M220.7 535.0L256.0 535.0" stroke="#4a3a2a" stroke-width="0.6" fill="none"/>
<path d="M220.7 538.4L248.0 538.4" stroke="#4a3a2a" stroke-width="0.6" fill="none"/>
<path d="M220.7 541.6L232.0 541.6" stroke="#4a3a2a" stroke-width="0.6" fill="none"/>
<path d="M246.0 528.4L246.0 535.0" stroke="#111" stroke-width="0.6" fill="none"/>
<path d="M246.0 530.0L250.0 530.0" stroke="#111" stroke-width="0.6" fill="none"/>
<path d="M233.2 549.0L252.0 549.0" stroke="#4a3a2a" stroke-width="0.6" fill="none"/>
<path d="M233.2 552.4L238.0 552.4" stroke="#4a3a2a" stroke-width="0.6" fill="none"/>
<path d="M220.7 555.4L226.0 555.4" stroke="#4a3a2a" stroke-width="0.6" fill="none"/>
<path d="M220.7 558.4L233.0 558.4" stroke="#4a3a2a" stroke-width="0.6" fill="none"/>
<path d="M209.2 561.0L233.0 561.0" stroke="#4a3a2a" stroke-width="0.6" fill="none"/>
<path d="M209.2 564.4L220.0 564.4" stroke="#4a3a2a" stroke-width="0.6" fill="none"/>
<path d="M209.2 568.2L220.0 568.2" stroke="#4a3a2a" stroke-width="0.6" fill="none"/>
<path d="M209.2 571.6L214.0 571.6" stroke="#4a3a2a" stroke-width="0.6" fill="none"/>
<path d="M209.2 575.2L220.0 575.2" stroke="#4a3a2a" stroke-width="0.6" fill="none"/>
<path d="M209.2 579.4L234.0 579.4" stroke="#4a3a2a" stroke-width="0.6" fill="none"/>
<path d="M234.0 577.6L252.0 577.6" stroke="#4a3a2a" stroke-width="0.6" fill="none"/>
<path d="M234.0 581.6L246.0 581.6" stroke="#4a3a2a" stroke-width="0.6" fill="none"/>
<path d="M209.2 584.6L221.0 584.6" stroke="#4a3a2a" stroke-width="0.6" fill="none"/>
<path d="M209.2 588.4L220.0 588.4" stroke="#4a3a2a" stroke-width="0.6" fill="none"/>
<path d="M209.2 592.0L221.0 592.0" stroke="#4a3a2a" stroke-width="0.6" fill="none"/>
<path d="M209.2 595.4L234.0 595.4" stroke="#4a3a2a" stroke-width="0.6" fill="none"/>
<path d="M209.2 598.6L227.0 598.6" stroke="#4a3a2a" stroke-width="0.6" fill="none"/>
<path d="M227.0 602.0L238.0 602.0" stroke="#4a3a2a" stroke-width="0.6" fill="none"/>
<path d="M227.0 599.6L233.0 599.6" stroke="#4a3a2a" stroke-width="0.6" fill="none"/>
<path d="M209.2 604.0L235.0 604.0" stroke="#4a3a2a" stroke-width="0.6" fill="none"/>
<path d="M234.0 577.6L234.0 581.6" stroke="#111" stroke-width="0.6" fill="none"/>
<path d="M227.0 598.6L227.0 602.0" stroke="#111" stroke-width="0.6" fill="none"/>
<path d="M211.4 609.6L231.0 609.6" stroke="#4a3a2a" stroke-width="0.6" fill="none"/>
<path d="M211.4 612.4L224.0 612.4" stroke="#4a3a2a" stroke-width="0.6" fill="none"/>
<path d="M209.0 616.6L220.0 616.6" stroke="#4a3a2a" stroke-width="0.6" fill="none"/>
<path d="M220.0 615.4L224.0 615.4" stroke="#4a3a2a" stroke-width="0.6" fill="none"/>
<path d="M220.0 618.4L231.0 618.4" stroke="#4a3a2a" stroke-width="0.6" fill="none"/>
<path d="M209.0 622.0L214.0 622.0" stroke="#4a3a2a" stroke-width="0.6" fill="none"/>
<path d="M220.0 615.4L220.0 618.4" stroke="#111" stroke-width="0.6" fill="none"/>
<path d="M110.5 625.6L160.0 625.6" stroke="#6a4a2a" stroke-width="0.6" fill="none"/>
</g>
<g id="inset-tree">
<rect x="442.2" y="8.4" width="43.7" height="2.2" fill="#fb8072"/>
<rect x="463.5" y="7.3" width="22.4" height="1.2" fill="#68cbc6"/>
<rect x="442.2" y="10.1" width="43.7" height="10.4" fill="#bdb6dc"/>
<rect x="442.2" y="20.0" width="43.7" height="5.9" fill="#fdbf7b"/>
<rect x="442.2" y="25.4" width="61.1" height="12.4" fill="#fdbf7b"/>
<rect x="492.0" y="34.7" width="11.3" height="2.1" fill="#68cbc6"/>
<rect x="474.0" y="36.3" width="29.3" height="1.5" fill="#bdb6dc"/>
<rect x="442.2" y="37.3" width="61.1" height="6.6" fill="#bdb6dc"/>
<rect x="442.2" y="43.4" width="61.1" height="3.7" fill="#fb8072"/>
<rect x="442.2" y="46.6" width="61.1" height="8.7" fill="#bdb6dc"/>
<rect x="492.0" y="46.6" width="11.3" height="2.4" fill="#fdbf7b"/>
<rect x="442.2" y="54.8" width="61.1" height="13.6" fill="#6aaed6"/>
<rect x="450.4" y="61.4" width="13.9" height="1.6" fill="#cfe0ec"/>
<rect x="431.5" y="66.8" width="10.7" height="1.6" fill="#68cbc6"/>
<rect x="431.5" y="67.9" width="71.8" height="4.1" fill="#bdb6dc"/>
<rect x="448.7" y="71.5" width="54.6" height="3.4" fill="#bdb6dc"/>
<rect x="448.7" y="74.4" width="54.6" height="6.6" fill="#68cbc6"/>
<rect x="436.1" y="80.5" width="67.2" height="4.5" fill="#68cbc6"/>
<rect x="436.1" y="84.5" width="67.2" height="3.0" fill="#bdb6dc"/>
<rect x="445.5" y="87.0" width="57.8" height="3.0" fill="#fdbf7b"/>
<rect x="445.5" y="89.5" width="57.8" height="3.4" fill="#68cbc6"/>
<rect x="445.5" y="92.4" width="57.8" height="3.8" fill="#ffee1a"/>
<rect x="445.5" y="95.7" width="57.8" height="3.8" fill="#68cbc6"/>
<rect x="445.5" y="99.0" width="57.8" height="6.5" fill="#fdbf7b"/>
<rect x="445.5" y="105.0" width="57.8" height="4.6" fill="#ffee1a"/>
<rect x="445.5" y="109.1" width="57.8" height="2.1" fill="#68cbc6"/>
<rect x="445.5" y="110.7" width="57.8" height="6.3" fill="#fdbf7b"/>
<rect x="445.5" y="116.5" width="57.8" height="3.2" fill="#68cbc6"/>
<rect x="436.1" y="119.2" width="71.5" height="6.8" fill="#fdbf7b"/>
<rect x="436.0" y="125.5" width="61.3" height="46.1" fill="#fdbf7b"/>
<rect x="436.0" y="171.1" width="61.3" height="16.4" fill="#bdb6dc"/>
<rect x="436.0" y="187.0" width="61.3" height="4.9" fill="#ffee1a"/>
<rect x="436.0" y="191.4" width="61.3" height="6.7" fill="#bdb6dc"/>
<rect x="436.0" y="197.6" width="61.3" height="2.7" fill="#fb8072"/>
<rect x="436.0" y="199.8" width="61.3" height="8.5" fill="#ffee1a"/>
<rect x="436.0" y="207.8" width="61.3" height="24.4" fill="#68cbc6"/>
<rect x="436.0" y="231.7" width="61.3" height="3.3" fill="#fb8072"/>
<rect x="426.1" y="234.5" width="71.2" height="11.4" fill="#fdbf7b"/>
<rect x="426.1" y="245.4" width="71.2" height="3.6" fill="#bdb6dc"/>
<rect x="453.0" y="251.3" width="44.3" height="3.5" fill="#68cbc6"/>
<rect x="453.0" y="254.3" width="44.3" height="2.0" fill="#bdb6dc"/>
<rect x="494.5" y="254.3" width="2.8" height="2.0" fill="#ffee1a"/>
<rect x="453.0" y="255.8" width="44.3" height="15.6" fill="#fdbf7b"/>
<rect x="453.0" y="270.9" width="44.3" height="3.6" fill="#ffee1a"/>
<rect x="453.0" y="274.0" width="44.3" height="4.3" fill="#bdb6dc"/>
<rect x="453.0" y="277.8" width="44.3" height="4.5" fill="#68cbc6"/>
<rect x="453.0" y="281.8" width="44.3" height="3.8" fill="#ffee1a"/>
<rect x="470.9" y="287.1" width="26.4" height="5.8" fill="#68cbc6"/>
<rect x="470.9" y="292.4" width="26.4" height="3.5" fill="#fdbf7b"/>
<rect x="470.9" y="295.4" width="26.4" height="2.4" fill="#68cbc6"/>
<rect x="470.9" y="297.3" width="26.4" height="21.6" fill="#fdbf7b"/>
<rect x="461.1" y="302.9" width="36.2" height="16.0" fill="#fdbf7b"/>
<rect x="461.1" y="318.4" width="36.2" height="10.1" fill="#68cbc6"/>
<rect x="444.2" y="328.0" width="53.1" height="3.5" fill="#fdbf7b"/>
<rect x="434.3" y="331.0" width="63.0" height="2.4" fill="#bdb6dc"/>
<path d="M398.5 146.8L398.5 316.3" stroke="#505050" stroke-width="0.55" fill="none"/>
<path d="M379.0 231.5L398.5 231.5" stroke="#999" stroke-width="0.55" fill="none"/>
<path d="M398.5 146.8L410.0 146.8" stroke="#505050" stroke-width="0.55" fill="none"/>
<path d="M410.0 61.4L410.0 231.4" stroke="#505050" stroke-width="0.55" fill="none"/>
<path d="M410.0 61.4L422.8 61.4" stroke="#505050" stroke-width="0.55" fill="none"/>
<path d="M422.8 40.4L422.8 73.6" stroke="#505050" stroke-width="0.55" fill="none"/>
<path d="M422.8 40.1L442.2 40.1" stroke="#505050" stroke-width="0.55" fill="none"/>
<path d="M422.8 69.5L430.5 69.5" stroke="#505050" stroke-width="0.55" fill="none"/>
<path d="M422.8 73.6L448.0 73.6" stroke="#505050" stroke-width="0.55" fill="none"/>
<path d="M436.0 80.5L436.0 120.0" stroke="#505050" stroke-width="0.55" fill="none"/>
<path d="M436.0 98.6L445.2 98.6" stroke="#505050" stroke-width="0.55" fill="none"/>
<path d="M436.0 113.5L445.2 113.5" stroke="#505050" stroke-width="0.55" fill="none"/>
<path d="M410.0 231.4L425.8 231.4" stroke="#505050" stroke-width="0.55" fill="none"/>
<path d="M425.8 170.0L425.8 246.8" stroke="#505050" stroke-width="0.55" fill="none"/>
<path d="M425.8 170.0L444.6 170.0" stroke="#505050" stroke-width="0.55" fill="none"/>
<path d="M436.0 120.0L436.0 232.0" stroke="#505050" stroke-width="0.55" fill="none"/>
<path d="M398.5 316.3L434.0 316.3" stroke="#505050" stroke-width="0.55" fill="none"/>
<path d="M434.0 300.0L434.0 332.4" stroke="#505050" stroke-width="0.55" fill="none"/>
<path d="M434.0 300.0L444.0 300.0" stroke="#505050" stroke-width="0.55" fill="none"/>
<path d="M444.0 267.0L444.0 329.0" stroke="#505050" stroke-width="0.55" fill="none"/>
<path d="M444.0 267.0L453.0 267.0" stroke="#505050" stroke-width="0.55" fill="none"/>
<path d="M444.0 283.3L453.0 283.3" stroke="#505050" stroke-width="0.55" fill="none"/>
<path d="M444.0 318.2L461.3 318.2" stroke="#505050" stroke-width="0.55" fill="none"/>
<path d="M453.0 252.0L453.0 285.0" stroke="#505050" stroke-width="0.55" fill="none"/>
<path d="M461.3 304.0L461.3 327.0" stroke="#505050" stroke-width="0.55" fill="none"/>
<path d="M470.5 287.0L470.5 317.0" stroke="#505050" stroke-width="0.55" fill="none"/>
<path d="M442.2 37.3L442.2 65.5" stroke="#5a5478" stroke-width="0.5" fill="none"/>
<path d="M445.2 88.0L445.2 119.0" stroke="#999" stroke-width="0.4" fill="none"/>
<path d="M463.5 6.9L467.6 6.9" stroke="#3a3a3a" stroke-width="0.5" fill="none"/>
<path d="M465.1 11.8L473.3 11.8" stroke="#3a3a3a" stroke-width="0.5" fill="none"/>
<path d="M465.1 14.7L472.5 14.7" stroke="#3a3a3a" stroke-width="0.5" fill="none"/>
<path d="M456.9 13.9L465.1 13.9" stroke="#3a3a3a" stroke-width="0.5" fill="none"/>
<path d="M465.1 17.2L467.6 17.2" stroke="#3a3a3a" stroke-width="0.5" fill="none"/>
<path d="M465.1 20.0L473.3 20.0" stroke="#3a3a3a" stroke-width="0.5" fill="none"/>
<path d="M456.9 18.6L465.1 18.6" stroke="#3a3a3a" stroke-width="0.5" fill="none"/>
<path d="M456.9 22.9L461.8 22.9" stroke="#3a3a3a" stroke-width="0.5" fill="none"/>
<path d="M483.9 25.7L488.0 25.7" stroke="#3a3a3a" stroke-width="0.5" fill="none"/>
<path d="M483.9 28.1L493.4 28.1" stroke="#3a3a3a" stroke-width="0.5" fill="none"/>
<path d="M483.9 30.6L493.0 30.6" stroke="#3a3a3a" stroke-width="0.5" fill="none"/>
<path d="M483.9 33.2L490.5 33.2" stroke="#3a3a3a" stroke-width="0.5" fill="none"/>
<path d="M474.0 29.5L483.9 29.5" stroke="#3a3a3a" stroke-width="0.5" fill="none"/>
<path d="M474.0 35.7L485.5 35.7" stroke="#3a3a3a" stroke-width="0.5" fill="none"/>
<path d="M450.4 32.7L474.0 32.7" stroke="#3a3a3a" stroke-width="0.5" fill="none"/>
<path d="M450.4 38.5L461.8 38.5" stroke="#3a3a3a" stroke-width="0.5" fill="none"/>
<path d="M442.2 41.2L445.5 41.2" stroke="#3a3a3a" stroke-width="0.5" fill="none"/>
<path d="M442.2 43.9L451.2 43.9" stroke="#3a3a3a" stroke-width="0.5" fill="none"/>
<path d="M442.2 46.3L451.2 46.3" stroke="#3a3a3a" stroke-width="0.5" fill="none"/>
<path d="M442.2 49.1L451.2 49.1" stroke="#3a3a3a" stroke-width="0.5" fill="none"/>
<path d="M450.4 51.5L454.5 51.5" stroke="#3a3a3a" stroke-width="0.5" fill="none"/>
<path d="M450.4 54.3L465.9 54.3" stroke="#3a3a3a" stroke-width="0.5" fill="none"/>
<path d="M450.4 57.0L472.5 57.0" stroke="#3a3a3a" stroke-width="0.5" fill="none"/>
<path d="M472.5 56.5L480.6 56.5" stroke="#3a3a3a" stroke-width="0.5" fill="none"/>
<path d="M472.5 59.7L477.0 59.7" stroke="#3a3a3a" stroke-width="0.5" fill="none"/>
<path d="M450.4 58.6L472.5 58.6" stroke="#3a3a3a" stroke-width="0.5" fill="none"/>
<path d="M464.3 62.2L478.2 62.2" stroke="#3a3a3a" stroke-width="0.5" fill="none"/>
<path d="M442.2 64.6L457.7 64.6" stroke="#3a3a3a" stroke-width="0.5" fill="none"/>
<path d="M431.5 68.6L440.0 68.6" stroke="#3a3a3a" stroke-width="0.5" fill="none"/>
<path d="M436.0 70.4L444.0 70.4" stroke="#3a3a3a" stroke-width="0.5" fill="none"/>
<path d="M448.5 73.2L468.0 73.2" stroke="#3a3a3a" stroke-width="0.5" fill="none"/>
<path d="M448.5 76.4L470.0 76.4" stroke="#3a3a3a" stroke-width="0.5" fill="none"/>
<path d="M448.5 79.4L456.0 79.4" stroke="#3a3a3a" stroke-width="0.5" fill="none"/>
<path d="M436.0 82.2L448.0 82.2" stroke="#3a3a3a" stroke-width="0.5" fill="none"/>
<path d="M436.0 85.4L470.0 85.4" stroke="#3a3a3a" stroke-width="0.5" fill="none"/>
<path d="M455.0 88.0L460.0 88.0" stroke="#3a3a3a" stroke-width="0.5" fill="none"/>
<path d="M455.0 90.2L471.0 90.2" stroke="#3a3a3a" stroke-width="0.5" fill="none"/>
<path d="M452.0 93.0L500.0 93.0" stroke="#3a3a3a" stroke-width="0.5" fill="none"/>
<path d="M465.0 94.8L476.0 94.8" stroke="#3a3a3a" stroke-width="0.5" fill="none"/>
<path d="M452.0 97.6L458.0 97.6" stroke="#3a3a3a" stroke-width="0.5" fill="none"/>
<path d="M445.2 100.2L454.0 100.2" stroke="#3a3a3a" stroke-width="0.5" fill="none"/>
<path d="M445.2 102.6L454.0 102.6" stroke="#3a3a3a" stroke-width="0.5" fill="none"/>
<path d="M445.2 105.2L454.0 105.2" stroke="#3a3a3a" stroke-width="0.5" fill="none"/>
<path d="M445.2 107.6L454.0 107.6" stroke="#3a3a3a" stroke-width="0.5" fill="none"/>
<path d="M445.2 110.0L454.0 110.0" stroke="#3a3a3a" stroke-width="0.5" fill="none"/>
<path d="M452.0 112.6L458.0 112.6" stroke="#3a3a3a" stroke-width="0.5" fill="none"/>
<path d="M445.2 114.4L462.0 114.4" stroke="#3a3a3a" stroke-width="0.5" fill="none"/>
<path d="M445.2 117.6L454.0 117.6" stroke="#3a3a3a" stroke-width="0.5" fill="none"/>
<path d="M456.9 13.9L456.9 22.9" stroke="#3a3a3a" stroke-width="0.5" fill="none"/>
<path d="M465.1 11.8L465.1 14.7" stroke="#3a3a3a" stroke-width="0.5" fill="none"/>
<path d="M465.1 17.2L465.1 20.0" stroke="#3a3a3a" stroke-width="0.5" fill="none"/>
<path d="M463.5 6.9L463.5 8.8" stroke="#3a3a3a" stroke-width="0.5" fill="none"/>
<path d="M450.4 32.7L450.4 38.5" stroke="#3a3a3a" stroke-width="0.5" fill="none"/>
<path d="M474.0 29.5L474.0 35.7" stroke="#3a3a3a" stroke-width="0.5" fill="none"/>
<path d="M483.9 25.4L483.9 33.5" stroke="#3a3a3a" stroke-width="0.5" fill="none"/>
<path d="M450.4 51.5L450.4 62.2" stroke="#3a3a3a" stroke-width="0.5" fill="none"/>
<path d="M472.5 56.5L472.5 59.7" stroke="#3a3a3a" stroke-width="0.5" fill="none"/>
<path d="M452.0 93.0L452.0 97.6" stroke="#3a3a3a" stroke-width="0.5" fill="none"/>
<path d="M465.0 93.0L465.0 94.8" stroke="#3a3a3a" stroke-width="0.5" fill="none"/>
<path d="M455.0 88.0L455.0 90.2" stroke="#3a3a3a" stroke-width="0.5" fill="none"/>
<path d="M487.0 121.4L490.0 121.4" stroke="#3a3a3a" stroke-width="0.5" fill="none"/>
<path d="M490.0 123.4L496.0 123.4" stroke="#3a3a3a" stroke-width="0.5" fill="none"/>
<path d="M496.0 122.4L504.0 122.4" stroke="#3a3a3a" stroke-width="0.5" fill="none"/>
<path d="M496.0 124.4L502.0 124.4" stroke="#3a3a3a" stroke-width="0.5" fill="none"/>
<path d="M490.0 121.4L490.0 123.4" stroke="#3a3a3a" stroke-width="0.5" fill="none"/>
<path d="M496.0 122.4L496.0 124.4" stroke="#3a3a3a" stroke-width="0.5" fill="none"/>
<path d="M436.0 128.0L446.0 128.0" stroke="#3a3a3a" stroke-width="0.5" fill="none"/>
<path d="M436.0 130.6L446.0 130.6" stroke="#3a3a3a" stroke-width="0.5" fill="none"/>
<path d="M436.0 133.4L446.0 133.4" stroke="#3a3a3a" stroke-width="0.5" fill="none"/>
<path d="M436.0 136.0L444.0 136.0" stroke="#3a3a3a" stroke-width="0.5" fill="none"/>
<path d="M436.0 138.6L454.0 138.6" stroke="#3a3a3a" stroke-width="0.5" fill="none"/>
<path d="M436.0 141.2L450.0 141.2" stroke="#3a3a3a" stroke-width="0.5" fill="none"/>
<path d="M436.0 143.8L448.0 143.8" stroke="#3a3a3a" stroke-width="0.5" fill="none"/>
<path d="M436.0 146.4L450.0 146.4" stroke="#3a3a3a" stroke-width="0.5" fill="none"/>
<path d="M436.0 149.0L449.0 149.0" stroke="#3a3a3a" stroke-width="0.5" fill="none"/>
<path d="M436.0 151.6L446.0 151.6" stroke="#3a3a3a" stroke-width="0.5" fill="none"/>
<path d="M436.0 154.2L446.0 154.2" stroke="#3a3a3a" stroke-width="0.5" fill="none"/>
<path d="M436.0 156.8L445.0 156.8" stroke="#3a3a3a" stroke-width="0.5" fill="none"/>
<path d="M436.0 159.4L446.0 159.4" stroke="#3a3a3a" stroke-width="0.5" fill="none"/>
<path d="M436.0 162.0L445.0 162.0" stroke="#3a3a3a" stroke-width="0.5" fill="none"/>
<path d="M436.0 164.6L446.0 164.6" stroke="#3a3a3a" stroke-width="0.5" fill="none"/>
<path d="M436.0 167.2L461.0 167.2" stroke="#3a3a3a" stroke-width="0.5" fill="none"/>
<path d="M446.0 135.2L449.0 135.2" stroke="#3a3a3a" stroke-width="0.5" fill="none"/>
<path d="M449.0 137.0L456.0 137.0" stroke="#3a3a3a" stroke-width="0.5" fill="none"/>
<path d="M446.0 135.2L446.0 138.6" stroke="#3a3a3a" stroke-width="0.5" fill="none"/>
<path d="M436.0 172.6L445.0 172.6" stroke="#3a3a3a" stroke-width="0.5" fill="none"/>
<path d="M436.0 175.2L444.0 175.2" stroke="#3a3a3a" stroke-width="0.5" fill="none"/>
<path d="M436.0 177.8L445.0 177.8" stroke="#3a3a3a" stroke-width="0.5" fill="none"/>
<path d="M436.0 180.4L446.0 180.4" stroke="#3a3a3a" stroke-width="0.5" fill="none"/>
<path d="M436.0 183.0L450.0 183.0" stroke="#3a3a3a" stroke-width="0.5" fill="none"/>
<path d="M436.0 185.6L450.0 185.6" stroke="#3a3a3a" stroke-width="0.5" fill="none"/>
<path d="M436.0 188.2L451.0 188.2" stroke="#3a3a3a" stroke-width="0.5" fill="none"/>
<path d="M436.0 190.8L445.0 190.8" stroke="#3a3a3a" stroke-width="0.5" fill="none"/>
<path d="M436.0 193.4L446.0 193.4" stroke="#3a3a3a" stroke-width="0.5" fill="none"/>
<path d="M436.0 196.0L445.0 196.0" stroke="#3a3a3a" stroke-width="0.5" fill="none"/>
<path d="M436.0 198.6L445.0 198.6" stroke="#3a3a3a" stroke-width="0.5" fill="none"/>
<path d="M436.0 201.2L445.0 201.2" stroke="#3a3a3a" stroke-width="0.5" fill="none"/>
<path d="M436.0 203.8L445.0 203.8" stroke="#3a3a3a" stroke-width="0.5" fill="none"/>
<path d="M436.0 206.4L445.0 206.4" stroke="#3a3a3a" stroke-width="0.5" fill="none"/>
<path d="M436.0 209.0L445.0 209.0" stroke="#3a3a3a" stroke-width="0.5" fill="none"/>
<path d="M436.0 211.6L444.0 211.6" stroke="#3a3a3a" stroke-width="0.5" fill="none"/>
<path d="M436.0 214.2L445.0 214.2" stroke="#3a3a3a" stroke-width="0.5" fill="none"/>
<path d="M436.0 216.8L449.0 216.8" stroke="#3a3a3a" stroke-width="0.5" fill="none"/>
<path d="M436.0 219.4L445.0 219.4" stroke="#3a3a3a" stroke-width="0.5" fill="none"/>
<path d="M436.0 222.0L445.0 222.0" stroke="#3a3a3a" stroke-width="0.5" fill="none"/>
<path d="M436.0 224.6L446.0 224.6" stroke="#3a3a3a" stroke-width="0.5" fill="none"/>
<path d="M436.0 227.2L444.0 227.2" stroke="#3a3a3a" stroke-width="0.5" fill="none"/>
<path d="M436.0 229.8L440.0 229.8" stroke="#3a3a3a" stroke-width="0.5" fill="none"/>
<path d="M450.0 182.8L481.0 182.8" stroke="#3a3a3a" stroke-width="0.5" fill="none"/>
<path d="M450.0 185.4L465.0 185.4" stroke="#3a3a3a" stroke-width="0.5" fill="none"/>
<path d="M445.0 191.4L451.0 191.4" stroke="#3a3a3a" stroke-width="0.5" fill="none"/>
<path d="M445.0 193.6L456.0 193.6" stroke="#3a3a3a" stroke-width="0.5" fill="none"/>
<path d="M446.0 222.2L449.0 222.2" stroke="#3a3a3a" stroke-width="0.5" fill="none"/>
<path d="M446.0 224.6L454.0 224.6" stroke="#3a3a3a" stroke-width="0.5" fill="none"/>
<path d="M450.0 182.8L450.0 185.6" stroke="#3a3a3a" stroke-width="0.5" fill="none"/>
<path d="M445.0 191.4L445.0 193.6" stroke="#3a3a3a" stroke-width="0.5" fill="none"/>
<path d="M425.8 236.4L436.0 236.4" stroke="#3a3a3a" stroke-width="0.5" fill="none"/>
<path d="M425.8 238.8L441.0 238.8" stroke="#3a3a3a" stroke-width="0.5" fill="none"/>
<path d="M425.8 241.2L436.0 241.2" stroke="#3a3a3a" stroke-width="0.5" fill="none"/>
<path d="M425.8 243.6L441.0 243.6" stroke="#3a3a3a" stroke-width="0.5" fill="none"/>
<path d="M425.8 246.2L432.0 246.2" stroke="#3a3a3a" stroke-width="0.5" fill="none"/>
<path d="M453.0 252.6L462.0 252.6" stroke="#3a3a3a" stroke-width="0.5" fill="none"/>
<path d="M471.0 255.0L481.0 255.0" stroke="#3a3a3a" stroke-width="0.5" fill="none"/>
<path d="M462.0 257.2L471.0 257.2" stroke="#3a3a3a" stroke-width="0.5" fill="none"/>
<path d="M462.0 259.6L470.0 259.6" stroke="#3a3a3a" stroke-width="0.5" fill="none"/>
<path d="M453.0 262.0L462.0 262.0" stroke="#3a3a3a" stroke-width="0.5" fill="none"/>
<path d="M453.0 264.6L461.0 264.6" stroke="#3a3a3a" stroke-width="0.5" fill="none"/>
<path d="M453.0 267.0L462.0 267.0" stroke="#3a3a3a" stroke-width="0.5" fill="none"/>
<path d="M453.0 269.4L462.0 269.4" stroke="#3a3a3a" stroke-width="0.5" fill="none"/>
<path d="M453.0 272.0L462.0 272.0" stroke="#3a3a3a" stroke-width="0.5" fill="none"/>
<path d="M453.0 274.6L462.0 274.6" stroke="#3a3a3a" stroke-width="0.5" fill="none"/>
<path d="M453.0 277.0L457.0 277.0" stroke="#3a3a3a" stroke-width="0.5" fill="none"/>
<path d="M453.0 279.6L462.0 279.6" stroke="#3a3a3a" stroke-width="0.5" fill="none"/>
<path d="M453.0 283.0L460.0 283.0" stroke="#3a3a3a" stroke-width="0.5" fill="none"/>
<path d="M453.0 285.0L461.0 285.0" stroke="#3a3a3a" stroke-width="0.5" fill="none"/>
<path d="M471.0 253.5L471.0 258.0" stroke="#3a3a3a" stroke-width="0.5" fill="none"/>
<path d="M462.0 255.0L462.0 262.0" stroke="#3a3a3a" stroke-width="0.5" fill="none"/>
<path d="M470.5 288.0L480.0 288.0" stroke="#3a3a3a" stroke-width="0.5" fill="none"/>
<path d="M470.5 290.2L478.0 290.2" stroke="#3a3a3a" stroke-width="0.5" fill="none"/>
<path d="M480.0 292.6L488.0 292.6" stroke="#3a3a3a" stroke-width="0.5" fill="none"/>
<path d="M480.0 294.2L490.0 294.2" stroke="#3a3a3a" stroke-width="0.5" fill="none"/>
<path d="M470.5 296.4L480.0 296.4" stroke="#3a3a3a" stroke-width="0.5" fill="none"/>
<path d="M470.5 299.0L480.0 299.0" stroke="#3a3a3a" stroke-width="0.5" fill="none"/>
<path d="M480.0 301.6L490.0 301.6" stroke="#3a3a3a" stroke-width="0.5" fill="none"/>
<path d="M480.0 303.8L485.0 303.8" stroke="#3a3a3a" stroke-width="0.5" fill="none"/>
<path d="M480.0 306.2L490.0 306.2" stroke="#3a3a3a" stroke-width="0.5" fill="none"/>
<path d="M480.0 308.6L485.0 308.6" stroke="#3a3a3a" stroke-width="0.5" fill="none"/>
<path d="M470.5 311.0L480.0 311.0" stroke="#3a3a3a" stroke-width="0.5" fill="none"/>
<path d="M470.5 313.4L479.0 313.4" stroke="#3a3a3a" stroke-width="0.5" fill="none"/>
<path d="M470.5 315.8L477.0 315.8" stroke="#3a3a3a" stroke-width="0.5" fill="none"/>
<path d="M461.3 320.6L467.0 320.6" stroke="#3a3a3a" stroke-width="0.5" fill="none"/>
<path d="M461.3 323.0L476.0 323.0" stroke="#3a3a3a" stroke-width="0.5" fill="none"/>
<path d="M461.3 325.4L474.0 325.4" stroke="#3a3a3a" stroke-width="0.5" fill="none"/>
<path d="M444.0 329.0L455.0 329.0" stroke="#3a3a3a" stroke-width="0.5" fill="none"/>
<path d="M434.0 331.8L450.0 331.8" stroke="#3a3a3a" stroke-width="0.5" fill="none"/>
<path d="M480.0 292.6L480.0 294.2" stroke="#3a3a3a" stroke-width="0.5" fill="none"/>
<path d="M480.0 301.6L480.0 308.6" stroke="#3a3a3a" stroke-width="0.5" fill="none"/>
</g>
<g id="arrow">
<path d="M305.5 83.2L386.3 143.9" stroke="#a8a8a8" stroke-width="0.8" fill="none"/>
<path d="M381.2 144.6L386.5 144L383.8 138.6" stroke="#a8a8a8" stroke-width="0.8" fill="none"/>
</g>
<g id="lizards">
<defs><linearGradient id="gb" gradientUnits="userSpaceOnUse" x1="0" y1="372" x2="0" y2="418"><stop offset="0" stop-color="#ae9068"/><stop offset="0.55" stop-color="#927854"/><stop offset="1" stop-color="#866c4c"/></linearGradient><linearGradient id="gc" gradientUnits="userSpaceOnUse" x1="352" y1="0" x2="546" y2="0"><stop offset="0" stop-color="#775a3d"/><stop offset="0.5" stop-color="#7c5f41"/><stop offset="0.75" stop-color="#917250"/><stop offset="1" stop-color="#a08058"/></linearGradient></defs>
<g id="lizard-b" stroke-linecap="round" stroke-linejoin="round">
<path d="M446.0 419.4C445.1 418.9 443.0 416.9 440.7 416.2C438.4 415.5 434.9 415.7 432.0 415.4C429.1 415.1 424.8 414.7 423.4 414.6" fill="none" stroke="#c6a47c" stroke-width="2.6"/>
<path d="M424.0 414.6L421.4 412.8M424.0 414.8L420.8 415.6M424.6 415.0L422.4 418.0" fill="none" stroke="#d2b48e" stroke-width="1.0"/>
<path d="M464.5 425.0C465.5 426.2 468.9 430.3 470.4 432.4C471.9 434.5 473.1 436.6 473.6 437.4" fill="none" stroke="#8f7150" stroke-width="5.6"/>
<path d="M465.5 426.4C466.4 427.5 469.4 431.1 470.6 432.8C471.9 434.5 472.6 435.8 473.0 436.4" fill="none" stroke="#d6cc9c" stroke-width="0.9" stroke-dasharray="0.2 2.2"/>
<path d="M473.4 437.2L467.8 446.0M473.6 437.6L473.4 448.6M474.0 437.4L477.6 444.4M474.2 437.0L486.0 441.8" fill="none" stroke="#d6b48c" stroke-width="1.3"/>
<path d="M411.5 448.0C412.1 449.5 416.1 455.0 415.0 457.0C413.9 459.0 406.7 459.5 405.0 460.0" fill="none" stroke="#9a7c56" stroke-width="4.4"/>
<path d="M405.4 459.8L394.2 459.6M405.2 460.2L392.8 463.8M405.6 460.6L397.0 465.6M406.0 460.8L401.6 466.0" fill="none" stroke="#cfac84" stroke-width="1.3"/>
<path d="M370.8 442.9C371.0 441.6 373.2 439.3 374.6 437.6C376.1 435.9 377.5 433.9 379.5 432.9C381.5 431.9 384.1 431.2 386.8 431.4C389.5 431.6 393.1 433.4 395.5 434.0C397.9 434.6 398.5 435.7 401.4 435.2C404.3 434.7 408.9 432.7 413.0 431.2C417.1 429.7 421.9 427.6 426.0 426.0C430.1 424.4 434.1 423.2 437.7 421.6C441.3 420.0 445.1 417.7 447.7 416.6C450.3 415.5 450.6 415.6 453.5 414.8C456.4 414.0 462.1 412.9 464.9 412.0C467.7 411.1 468.9 410.4 470.4 409.6C471.8 408.8 472.7 408.9 473.6 407.4C474.5 405.9 475.4 403.4 475.6 400.6C475.8 397.8 475.7 393.9 474.9 390.6C474.1 387.3 472.1 383.9 470.6 380.7C469.2 377.5 466.7 372.6 466.2 371.2C465.7 369.8 466.6 370.4 467.8 372.0C469.0 373.6 471.6 377.8 473.4 380.7C475.2 383.6 477.0 386.3 478.4 389.2C479.8 392.1 481.3 394.9 482.0 397.8C482.7 400.7 483.2 403.7 482.8 406.3C482.4 408.9 481.4 411.1 479.8 413.4C478.2 415.6 476.1 417.6 473.4 419.8C470.7 422.0 466.6 424.5 463.5 426.6C460.4 428.7 457.7 430.7 454.8 432.4C451.9 434.1 449.1 435.6 446.0 437.0C442.9 438.4 439.5 439.7 436.0 441.0C432.5 442.3 428.8 443.6 425.0 445.0C421.2 446.4 416.9 448.2 413.0 449.2C409.1 450.2 404.6 450.8 401.4 451.0C398.2 451.2 396.7 450.7 394.0 450.2C391.3 449.7 388.1 448.8 385.4 448.2C382.7 447.6 380.0 447.2 378.0 446.8C376.0 446.4 374.4 446.2 373.2 445.6C372.0 445.0 370.6 444.2 370.8 442.9Z" fill="url(#gb)" stroke="none" stroke-width="1"/>
<path d="M375.0 439.4C375.8 438.6 378.0 435.9 380.0 434.8C382.0 433.7 384.7 432.9 387.0 433.0C389.3 433.1 392.8 434.8 394.0 435.2" fill="none" stroke="#a3937a" stroke-width="2.6"/>
<path d="M398.0 437.4C400.5 436.9 408.3 435.6 413.0 434.2C417.7 432.8 421.8 430.6 426.0 429.0C430.2 427.4 434.0 426.1 438.0 424.4C442.0 422.7 445.8 420.2 450.0 418.6C454.2 417.0 459.3 415.9 463.0 414.6C466.7 413.3 469.6 412.6 472.0 411.0C474.4 409.4 476.5 407.3 477.6 405.0C478.7 402.7 478.9 399.8 478.6 397.0C478.3 394.2 477.2 390.9 476.0 388.0C474.8 385.1 472.3 381.0 471.6 379.6" fill="none" stroke="#93785499" stroke-width="3.0"/>
<path d="M388.0 442.6C390.0 442.7 395.7 443.6 400.0 443.4C404.3 443.2 409.3 442.7 414.0 441.6C418.7 440.5 423.3 438.5 428.0 436.6C432.7 434.7 437.5 432.5 442.0 430.4C446.5 428.3 450.8 426.0 455.0 424.0C459.2 422.0 463.5 420.3 467.0 418.4C470.5 416.5 473.8 414.8 476.0 412.4C478.2 410.0 479.7 405.4 480.4 404.0" fill="none" stroke="#ddd5a4" stroke-width="1.2" stroke-dasharray="4.6 1.4"/>
<path d="M390.0 437.6C392.0 437.8 397.8 439.2 402.0 439.0C406.2 438.8 410.7 437.8 415.0 436.6C419.3 435.4 423.7 433.4 428.0 431.6C432.3 429.8 436.8 427.8 441.0 426.0C445.2 424.2 449.0 422.3 453.0 420.6C457.0 418.9 461.5 417.5 465.0 416.0C468.5 414.5 471.7 413.5 474.0 411.6C476.3 409.7 477.9 407.2 478.8 404.6C479.7 402.0 479.3 397.4 479.4 396.0" fill="none" stroke="#ddd5a4" stroke-width="1.1" stroke-dasharray="0.2 2.6"/>
<path d="M404.0 435.4C406.0 434.9 412.0 433.5 416.0 432.2C420.0 430.9 424.0 429.2 428.0 427.6C432.0 426.0 436.0 424.3 440.0 422.6C444.0 420.9 448.0 418.9 452.0 417.4C456.0 415.9 460.7 414.8 464.0 413.6C467.3 412.4 469.9 411.7 472.0 410.0C474.1 408.3 475.8 406.0 476.6 403.4C477.4 400.8 477.4 397.5 477.0 394.6C476.6 391.7 474.5 387.4 474.0 386.0" fill="none" stroke="#ddd5a4" stroke-width="1.0" stroke-dasharray="0.2 2.9"/>
<path d="M396.0 447.6C398.0 447.6 404.0 448.2 408.0 447.8C412.0 447.4 416.0 446.2 420.0 445.0C424.0 443.8 428.0 442.4 432.0 440.8C436.0 439.2 440.2 437.4 444.0 435.6C447.8 433.8 451.5 432.0 455.0 430.0C458.5 428.0 463.3 424.7 465.0 423.6" fill="none" stroke="#d2c795" stroke-width="1.1" stroke-dasharray="2.6 1.8"/>
<path d="M376.6 441.6C377.5 441.6 379.9 441.5 382.0 441.6C384.1 441.7 387.8 442.3 389.0 442.4" fill="none" stroke="#ddd5a4" stroke-width="0.9"/>
<path d="M373.4 444.6C374.5 444.8 377.6 445.6 380.0 446.0C382.4 446.4 385.3 446.5 388.0 446.8C390.7 447.1 394.7 447.8 396.0 448.0" fill="none" stroke="#c9bb90" stroke-width="1.3"/>
<path d="M392.0 444.6C393.2 444.8 396.7 445.7 399.0 445.8C401.3 445.9 404.0 445.5 406.0 445.0C408.0 444.5 410.2 443.3 411.0 443.0" fill="none" stroke="#d9d0a2" stroke-width="1.4" stroke-dasharray="1.6 1.6"/>
<path d="M397.0 441.4C398.2 441.5 401.8 442.1 404.0 441.8C406.2 441.5 409.0 440.0 410.0 439.6" fill="none" stroke="#5a4630" stroke-width="0.9" stroke-dasharray="1.2 1.8"/>
<circle cx="386.6" cy="440.4" r="1.05" fill="#1c140c"/>
</g>
<g id="lizard-c" stroke-linecap="round" stroke-linejoin="round">
<path d="M428.0 578.0C427.3 577.4 425.3 575.4 424.0 574.4C422.7 573.4 421.3 572.7 420.0 572.0C418.7 571.3 417.2 570.9 416.0 570.4C414.8 569.9 413.2 569.1 412.6 568.8" fill="none" stroke="#946f48" stroke-width="3.0"/>
<path d="M413.0 569.0L405.6 571.6M412.6 568.6L404.8 568.2M412.4 568.0L405.6 564.6M413.2 567.8L409.4 563.6M414.0 568.0L414.6 564.4" fill="none" stroke="#a8845a" stroke-width="1.3"/>
<path d="M394.6 575.4C395.2 574.8 397.1 572.1 398.4 571.6C399.7 571.1 401.9 572.4 402.6 572.6" fill="none" stroke="#7a5a3a" stroke-width="3.0"/>
<path d="M384.0 585.6C383.2 586.4 380.7 589.1 379.0 590.6C377.3 592.1 374.8 593.9 374.0 594.6" fill="none" stroke="#7d5d3c" stroke-width="4.2"/>
<path d="M374.4 594.4L361.4 592.0M374.2 594.8L360.4 595.4M374.2 595.2L362.4 598.6M374.6 595.6L367.6 600.2M375.2 595.4L375.4 599.6" fill="none" stroke="#a98560" stroke-width="1.4"/>
<path d="M433.4 589.0C433.9 590.3 435.5 594.5 436.4 597.0C437.3 599.5 437.9 601.6 439.0 604.0C440.1 606.4 442.3 610.3 443.0 611.6" fill="none" stroke="#7d5d3c" stroke-width="4.4"/>
<path d="M442.8 611.4L439.0 617.4M443.0 611.8L442.0 618.8M443.4 611.8L446.2 618.0M443.6 611.2L448.4 614.2" fill="none" stroke="#a07c52" stroke-width="1.3"/>
<path d="M351.8 568.8C352.1 568.0 353.1 566.5 354.0 565.6C354.9 564.7 355.8 564.2 357.0 563.6C358.2 563.0 359.7 562.3 361.0 562.0C362.3 561.7 363.7 561.5 365.0 561.6C366.3 561.7 367.7 562.2 369.0 562.8C370.3 563.4 371.5 564.2 373.0 565.0C374.5 565.8 376.3 566.8 378.0 567.6C379.7 568.4 381.3 569.2 383.0 570.0C384.7 570.8 386.3 571.8 388.0 572.6C389.7 573.4 391.2 574.3 393.0 575.0C394.8 575.7 397.0 576.3 399.0 576.8C401.0 577.3 403.0 577.8 405.0 578.0C407.0 578.2 409.0 578.2 411.0 578.2C413.0 578.2 415.0 578.1 417.0 578.0C419.0 577.9 421.0 577.8 423.0 577.6C425.0 577.4 427.0 577.2 429.0 577.0C431.0 576.8 433.0 576.8 435.0 576.6C437.0 576.4 438.8 576.2 441.0 576.0C443.2 575.8 445.7 575.5 448.0 575.2C450.3 574.9 452.8 574.5 455.0 574.0C457.2 573.5 458.8 572.9 461.0 572.4C463.2 571.9 465.5 571.3 468.2 571.0C470.9 570.7 474.0 570.6 477.0 570.5C480.0 570.4 483.3 570.4 486.4 570.4C489.5 570.4 492.5 570.6 495.5 570.8C498.5 571.0 501.9 571.4 504.5 571.7C507.1 572.0 508.9 572.4 511.0 572.8C513.1 573.2 515.3 573.5 517.3 574.3C519.3 575.1 521.2 576.4 523.0 577.6C524.8 578.8 526.5 580.3 528.2 581.6C529.9 582.9 531.5 584.2 533.0 585.6C534.5 587.0 536.0 588.3 537.3 589.7C538.6 591.1 539.8 592.7 540.8 594.2C541.8 595.7 542.9 597.3 543.6 598.8C544.3 600.3 544.8 601.7 545.2 603.2C545.7 604.7 546.3 606.9 546.3 607.8C546.3 608.7 545.9 609.1 545.4 608.6C544.9 608.1 544.1 605.9 543.4 604.6C542.7 603.3 542.1 601.9 541.4 600.6C540.7 599.3 540.0 598.1 539.0 596.8C538.0 595.5 536.8 594.2 535.6 593.0C534.4 591.8 533.2 590.7 531.8 589.5C530.4 588.3 528.9 587.0 527.4 585.8C525.9 584.6 524.4 583.4 522.7 582.3C521.0 581.2 519.2 579.9 517.4 579.0C515.6 578.1 514.0 577.3 511.8 576.8C509.6 576.3 506.7 576.0 504.0 575.8C501.3 575.6 498.4 575.5 495.5 575.4C492.6 575.3 489.4 575.3 486.4 575.4C483.4 575.5 480.2 575.7 477.3 576.0C474.4 576.3 471.7 576.8 469.0 577.4C466.3 578.0 463.3 578.6 461.0 579.5C458.7 580.4 457.2 581.7 455.0 582.6C452.8 583.5 450.3 584.2 448.0 585.0C445.7 585.8 443.0 586.7 441.0 587.4C439.0 588.1 437.7 588.8 436.0 589.4C434.3 590.0 432.8 590.5 431.0 591.0C429.2 591.5 427.0 592.2 425.0 592.6C423.0 593.0 421.2 593.4 419.0 593.6C416.8 593.8 414.3 593.7 412.0 593.6C409.7 593.5 407.3 593.3 405.0 593.0C402.7 592.7 400.3 592.3 398.0 591.8C395.7 591.3 393.1 590.7 391.0 590.0C388.9 589.3 387.2 588.4 385.4 587.6C383.6 586.8 381.7 585.9 380.0 585.0C378.3 584.1 376.9 583.2 375.4 582.4C373.9 581.6 372.6 580.8 371.0 580.0C369.4 579.2 367.7 578.2 366.0 577.4C364.3 576.6 362.5 575.7 361.0 575.0C359.5 574.3 358.2 573.9 357.0 573.4C355.8 572.9 354.8 572.5 354.0 572.0C353.2 571.5 352.4 570.9 352.0 570.4C351.6 569.9 351.5 569.6 351.8 568.8Z" fill="url(#gc)" stroke="none" stroke-width="1"/>
<path d="M359.0 564.6C360.2 564.7 363.7 564.4 366.0 565.0C368.3 565.6 370.7 566.9 373.0 568.0C375.3 569.1 377.0 569.9 380.0 571.4C383.0 572.9 387.2 575.4 391.0 577.0C394.8 578.6 398.7 580.3 403.0 581.0C407.3 581.7 412.0 581.6 417.0 581.4C422.0 581.2 427.8 580.6 433.0 580.0C438.2 579.4 443.0 578.9 448.0 578.0C453.0 577.1 457.7 575.6 463.0 574.6C468.3 573.6 474.0 572.6 480.0 572.2C486.0 571.8 495.8 572.2 499.0 572.2" fill="none" stroke="#8a6a45" stroke-width="2.6"/>
<path d="M358.0 571.4C359.5 572.1 363.8 573.9 367.0 575.4C370.2 576.9 373.2 578.7 377.0 580.4C380.8 582.1 385.7 584.3 390.0 585.6C394.3 586.9 398.5 587.8 403.0 588.4C407.5 589.0 412.3 589.3 417.0 589.0C421.7 588.7 426.7 587.6 431.0 586.6C435.3 585.6 439.0 584.2 443.0 583.0C447.0 581.8 453.0 580.0 455.0 579.4" fill="none" stroke="#cdbb8e" stroke-width="1.0"/>
<path d="M368.0 568.6C369.5 569.3 373.8 571.5 377.0 573.0C380.2 574.5 383.5 576.4 387.0 577.8C390.5 579.2 394.2 580.6 398.0 581.6C401.8 582.6 405.7 583.3 410.0 583.6C414.3 583.9 419.3 584.0 424.0 583.6C428.7 583.2 433.7 582.2 438.0 581.4C442.3 580.6 446.0 579.9 450.0 579.0C454.0 578.1 460.0 576.5 462.0 576.0" fill="none" stroke="#2e1f12" stroke-width="1.2" stroke-dasharray="1.2 2.2"/>
<path d="M378.0 585.6C380.0 586.3 385.8 588.6 390.0 589.6C394.2 590.6 398.7 591.2 403.0 591.6C407.3 592.0 411.7 592.2 416.0 592.0C420.3 591.8 426.8 590.7 429.0 590.4" fill="none" stroke="#b39f76" stroke-width="0.9"/>
<path d="M462.0 577.0C464.5 576.4 471.5 574.3 477.0 573.6C482.5 572.9 489.5 572.8 495.0 573.0C500.5 573.2 505.8 573.6 510.0 574.6C514.2 575.6 516.7 577.0 520.0 579.0C523.3 581.0 527.0 584.0 530.0 586.6C533.0 589.2 536.7 593.3 538.0 594.6" fill="none" stroke="#9a7c54" stroke-width="1.0"/>
<circle cx="361.8" cy="566.6" r="0.9" fill="#1a120a"/>
<path d="M353.4 570.6C354.1 570.9 355.9 572.0 357.4 572.6C358.9 573.2 361.6 574.1 362.4 574.4" fill="none" stroke="#c2af86" stroke-width="0.9"/>
</g>
</g>
<g id="labels">
<text x="35.8" y="52.4" font-size="15" font-weight="bold" text-anchor="start" fill="#000">(a)</text>
<text x="369.1" y="396.2" font-size="15" font-weight="bold" text-anchor="start" fill="#000">(b)</text>
<text x="368.9" y="536.2" font-size="15" font-weight="bold" text-anchor="start" fill="#000">(c)</text>
<text x="66.5" y="78.0" font-size="9.4" font-weight="normal" text-anchor="start" fill="#000">0.89/96</text>
<text x="141.2" y="127.9" font-size="9.4" font-weight="normal" text-anchor="start" fill="#000">1/100</text>
<text x="63.8" y="184.8" font-size="9.4" font-weight="normal" text-anchor="start" fill="#000">0.89/100</text>
<text x="69.6" y="230.9" font-size="9.4" font-weight="normal" text-anchor="start" fill="#000">0.84/40</text>
<text x="132.0" y="303.4" font-size="9.4" font-weight="normal" text-anchor="start" fill="#000">0.98/85</text>
<text x="170.4" y="358.9" font-size="9.4" font-weight="normal" text-anchor="start" fill="#000">1/98</text>
<text x="7.6" y="417.3" font-size="9.4" font-weight="normal" text-anchor="start" fill="#000">1/99</text>
<text x="130.2" y="446.6" font-size="9.4" font-weight="normal" text-anchor="start" fill="#000">1/53</text>
<text x="118.6" y="582.3" font-size="9.4" font-weight="normal" text-anchor="start" fill="#000">0.85/55</text>
<text x="80.6" y="601.2" font-size="9.4" font-weight="normal" text-anchor="start" fill="#000">0.85/55</text>
<text x="372.5" y="228.7" font-size="7.8" font-weight="normal" text-anchor="start" fill="#333">0.89/96</text>
<text x="289.0" y="90.3" font-size="16.5" font-weight="normal" text-anchor="start" fill="#000">Ia</text>
<text x="289.0" y="130.6" font-size="16.5" font-weight="normal" text-anchor="start" fill="#000">Ib</text>
<text x="289.0" y="183.0" font-size="16.5" font-weight="normal" text-anchor="start" fill="#000">Ic</text>
<text x="322.4" y="265.4" font-size="16.5" font-weight="normal" text-anchor="start" fill="#000">Id</text>
<text x="322.4" y="364.8" font-size="16.5" font-weight="normal" text-anchor="start" fill="#000">Ie</text>
<text x="324.6" y="442.6" font-size="16.5" font-weight="normal" text-anchor="start" fill="#000">If</text>
<text x="325.0" y="547.6" font-size="16.5" font-weight="normal" text-anchor="start" fill="#000">IIb</text>
<text x="323.2" y="622.2" font-size="16.5" font-weight="normal" text-anchor="start" fill="#000">IIa</text>
</g>
</svg>
</body>
</html>
